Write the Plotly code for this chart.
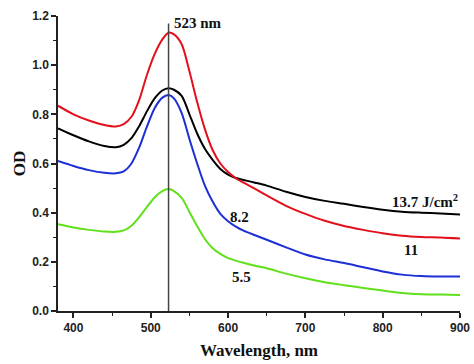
import plotly.graph_objects as go

wavelength = [380, 400, 420, 440, 455, 465, 475, 485, 495, 505, 515, 523, 530, 540, 550, 560, 570,
              580, 590, 600, 610, 620, 635, 650, 675, 700, 725, 750, 775, 800, 825, 850, 875, 900]

od_137 = [0.743, 0.715, 0.690, 0.671, 0.666, 0.676, 0.703, 0.752, 0.812, 0.865, 0.897, 0.906, 0.900,
          0.875, 0.800, 0.722, 0.660, 0.615, 0.578, 0.555, 0.541, 0.533, 0.522, 0.510, 0.485,
          0.464, 0.448, 0.436, 0.423, 0.412, 0.404, 0.400, 0.397, 0.393]
od_11 = [0.835, 0.800, 0.775, 0.757, 0.751, 0.760, 0.790, 0.858, 0.960, 1.045, 1.105, 1.132, 1.125,
         1.085, 0.975, 0.850, 0.740, 0.655, 0.600, 0.565, 0.540, 0.522, 0.497, 0.470, 0.428,
         0.395, 0.367, 0.346, 0.330, 0.316, 0.306, 0.301, 0.299, 0.295]
od_82 = [0.610, 0.590, 0.573, 0.562, 0.560, 0.568, 0.600, 0.665, 0.750, 0.825, 0.868, 0.879, 0.865,
         0.805, 0.700, 0.600, 0.510, 0.445, 0.395, 0.365, 0.343, 0.327, 0.308, 0.290, 0.259,
         0.230, 0.210, 0.195, 0.178, 0.161, 0.148, 0.142, 0.140, 0.140]
od_55 = [0.353, 0.340, 0.330, 0.323, 0.322, 0.328, 0.347, 0.382, 0.423, 0.462, 0.488, 0.496, 0.488,
         0.460, 0.403, 0.345, 0.293, 0.255, 0.232, 0.215, 0.205, 0.196, 0.184, 0.174, 0.152,
         0.133, 0.117, 0.105, 0.094, 0.083, 0.073, 0.068, 0.067, 0.065]

series = [
    ("13.7 J/cm²", od_137, "#000000"),
    ("11", od_11, "#e3101c"),
    ("8.2", od_82, "#1c2fd6"),
    ("5.5", od_55, "#5fe01a"),
]

peak_nm = 523

fig = go.Figure()
for name, vals, color in series:
    fig.add_trace(go.Scatter(x=wavelength, y=vals, mode="lines", name=name,
                             line=dict(color=color, width=2, shape="spline", smoothing=0.8)))

fig.add_shape(type="line", x0=peak_nm, x1=peak_nm, y0=0, y1=1.17, xref="x", yref="y",
              line=dict(color="#444444", width=1.5))

serif = "Liberation Serif, Times New Roman, serif"
lab_font = dict(family=serif, size=15, color="#111111", weight="bold")

fig.add_annotation(x=peak_nm + 4, y=1.17, text="523 nm", showarrow=False,
                   xanchor="left", yanchor="middle", font=lab_font)
fig.add_annotation(x=900, y=0.447, text="13.7 J/cm<sup>2</sup>", showarrow=False,
                   xanchor="right", yanchor="middle", font=lab_font)
fig.add_annotation(x=836, y=0.248, text="11", showarrow=False,
                   xanchor="center", yanchor="middle", font=lab_font)
fig.add_annotation(x=615, y=0.384, text="8.2", showarrow=False,
                   xanchor="center", yanchor="middle", font=lab_font)
fig.add_annotation(x=618, y=0.14, text="5.5", showarrow=False,
                   xanchor="center", yanchor="middle", font=lab_font)

tick_font = dict(family="Liberation Sans, Arial, sans-serif", size=12, color="#222222", weight="bold")

fig.update_layout(
    width=474, height=364,
    margin=dict(l=58, r=14, t=16, b=53),
    paper_bgcolor="white", plot_bgcolor="white",
    showlegend=False,
    xaxis=dict(range=[380, 900], tick0=400, dtick=100, ticks="outside", ticklen=5,
               tickwidth=1.5, tickcolor="#222", showline=True, linecolor="#222", linewidth=1.5,
               showgrid=False, zeroline=False, tickfont=tick_font, automargin=False,
               minor=dict(dtick=50, tick0=400, ticks="outside", ticklen=3, tickwidth=1.2, tickcolor="#222", showgrid=False),
               title=dict(text="Wavelength, nm", font=dict(family=serif, size=17, color="#111", weight="bold"), standoff=10)),
    yaxis=dict(range=[0, 1.2], tick0=0, dtick=0.2, tickformat=".1f", ticks="outside", ticklen=5,
               tickwidth=1.5, tickcolor="#222", showline=True, linecolor="#222", linewidth=1.5,
               showgrid=False, zeroline=False, tickfont=tick_font, automargin=False,
               minor=dict(dtick=0.1, ticks="outside", ticklen=3, tickwidth=1.2, tickcolor="#222", showgrid=False),
               title=dict(text="OD", font=dict(family=serif, size=17, color="#111", weight="bold"), standoff=2)),
)

fig.write_html("out.html", config={"displayModeBar": False},
               post_script="document.body.style.margin='0px';document.body.style.overflow='hidden';")
